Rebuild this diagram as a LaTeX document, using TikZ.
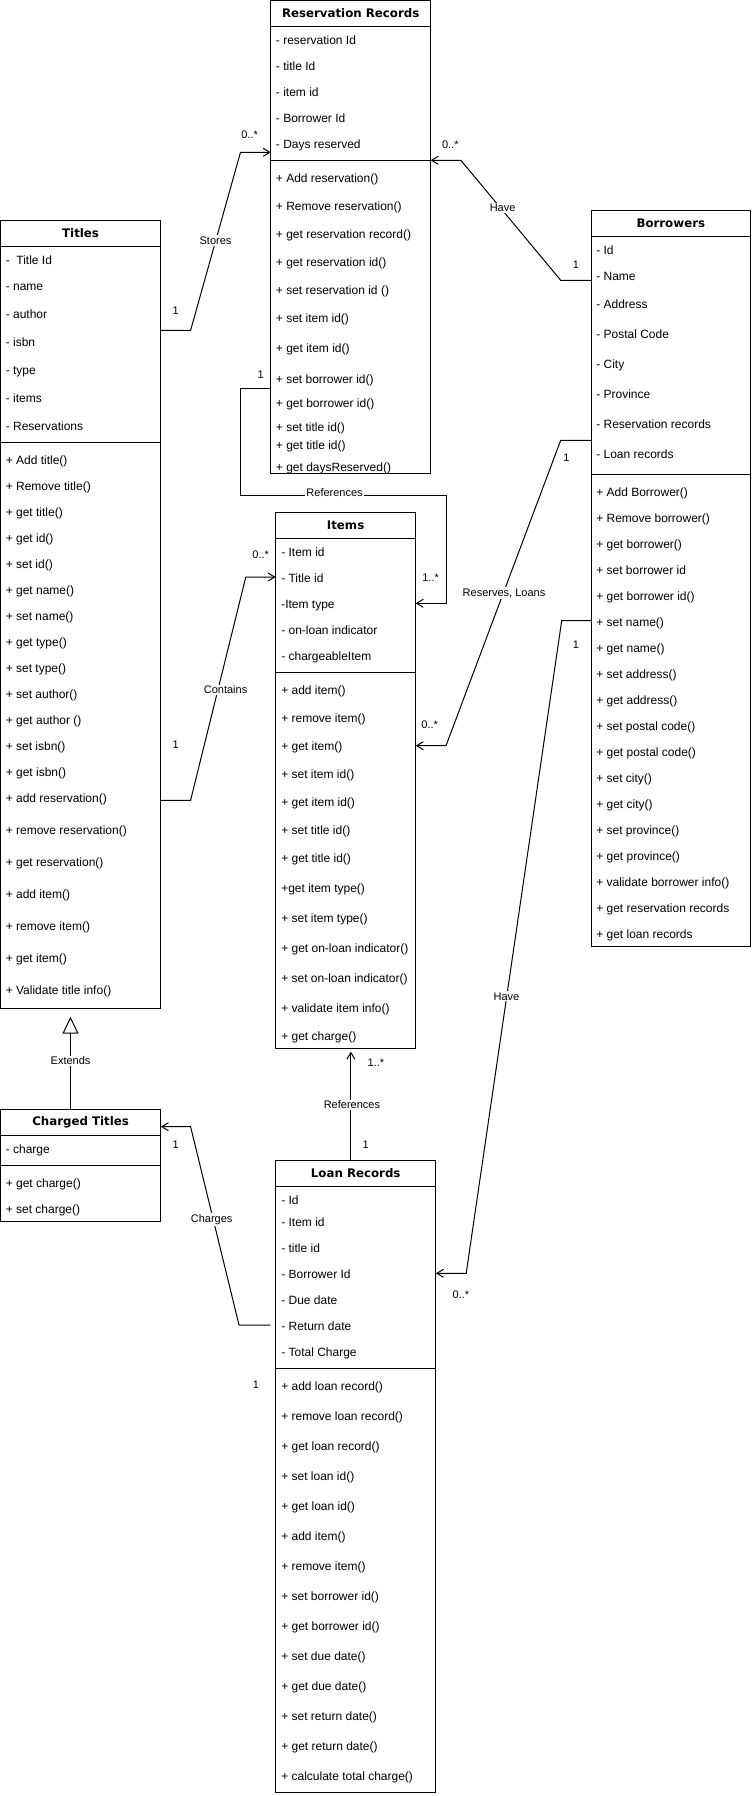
\documentclass[tikz,border=0pt]{standalone}
\usepackage{fontspec}
\setmainfont{Liberation Sans}
\newfontfamily\headfont{DejaVu Sans}
\usetikzlibrary{arrows.meta}
\usetikzlibrary{fit}
\tikzset{
  classbox/.style={draw, line width=0.75pt, inner sep=0pt, outer sep=0pt},
  classname/.style={font=\headfont\bfseries\fontsize{8.85}{10}\selectfont, inner sep=0pt},
  member/.style={font=\fontsize{9}{10.8}\selectfont, anchor=base west, yshift=-3.3pt, inner sep=0pt},
  mult/.style={font=\fontsize{8.25}{10}\selectfont, inner sep=0pt},
  elabel/.style={font=\fontsize{8.25}{10}\selectfont, fill=white, inner sep=1pt},
  sepline/.style={line width=0.75pt},
  assoc/.style={line width=0.75pt, -{Straight Barb[length=5pt,width=6pt]}},
  extends/.style={line width=0.75pt, -{Triangle[open, length=12.75pt, width=12pt]}},
}

\begin{document}
\begin{tikzpicture}[x=0.75pt, y=-0.75pt]
  \useasboundingbox (0,0) rectangle (752,1796);

  % Reservation Records
  \node[classbox, fit={(270.8,0.7) (430.6,473.3)}] (res) {};
  \node[classname] (resname) at (350.7,13.5) {Reservation Records};
  \draw[sepline] (res.west |- 0,26.3) -- (res.east |- 0,26.3);
  \draw[sepline] (res.west |- 0,160.3) -- (res.east |- 0,160.3);
  \foreach \t [count=\i from 0] in {- reservation Id, - title Id, - item id, - Borrower Id, - Days reserved}
    \node[member] (resa\i) at (275.7,{39.7+26*\i}) {\t};
  \foreach \y/\t [count=\i] in {177.7/+ Add reservation(), 205.7/+ Remove reservation(),
      233.7/+ get reservation record(), 261.7/+ get reservation id(), 289.7/+ set reservation id (),
      317.7/+ set item id(), 347.7/+ get item id(), 378.7/+ set borrower id(), 402.7/+ get borrower id(),
      426.7/+ set title id(), 445.3/+ get title id(), 466.7/+ get daysReserved()}
    \node[member] (resm\i) at (275.7,\y) {\t};

  % Titles
  \node[classbox, fit={(0.5,220.3) (160.8,1008.3)}] (titles) {};
  \node[classname] (titlesname) at (80.6,233.3) {Titles};
  \draw[sepline] (titles.west |- 0,246.3) -- (titles.east |- 0,246.3);
  \draw[sepline] (titles.west |- 0,442.7) -- (titles.east |- 0,442.7);
  \foreach \y/\t [count=\i] in {259.7/-\ \ Title Id, 285.7/- name, 313.7/- author, 341.7/- isbn,
      369.7/- type, 397.7/- items, 425.7/- Reservations}
    \node[member] (tita\i) at (5.5,\y) {\t};
  \foreach \t [count=\i from 0] in {+ Add title(), + Remove title(), + get title(), + get id(), + set id(),
      + get name(), + set name(), + get type(), + set type(), + set author(), + get author (),
      + set isbn(), + get isbn(), + add reservation()}
    \node[member] (titm\i) at (5.5,{459.7+26*\i}) {\t};
  \foreach \t [count=\i from 0] in {+ remove reservation(), + get reservation(), + add item(),
      + remove item(), + get item(), + Validate title info()}
    \node[member] (titn\i) at (5.5,{829.7+32*\i}) {\t};

  % Borrowers
  \node[classbox, fit={(591,210.3) (750.5,946)}] (borrowers) {};
  \node[classname] (borrowersname) at (670.8,223.3) {Borrowers};
  \draw[sepline] (borrowers.west |- 0,236.3) -- (borrowers.east |- 0,236.3);
  \draw[sepline] (borrowers.west |- 0,474.3) -- (borrowers.east |- 0,474.3);
  \foreach \y/\t [count=\i] in {249.7/- Id, 275.7/- Name, 303.7/- Address, 333.7/- Postal Code,
      363.7/- City, 393.7/- Province, 423.7/- Reservation records, 454/- Loan records}
    \node[member] (bora\i) at (596,\y) {\t};
  \foreach \t [count=\i from 0] in {+ Add Borrower(), + Remove borrower(), + get borrower(),
      + set borrower id, + get borrower id(), + set name(), + get name(), + set address(),
      + get address(), + set postal code(), + get postal code(), + set city(), + get city(),
      + set province(), + get province(), + validate borrower info(), + get reservation records,
      + get loan records}
    \node[member] (borm\i) at (596,{491.7+26*\i}) {\t};

  % Items
  \node[classbox, fit={(275.6,512.3) (415.7,1048.3)}] (items) {};
  \node[classname] (itemsname) at (345.6,525.3) {Items};
  \draw[sepline] (items.west |- 0,538.3) -- (items.east |- 0,538.3);
  \draw[sepline] (items.west |- 0,672.3) -- (items.east |- 0,672.3);
  \foreach \t [count=\i from 0] in {- Item id, - Title id, -Item type, - on-loan indicator, - chargeableItem}
    \node[member] (itea\i) at (281,{551.7+26*\i}) {\t};
  \foreach \y/\t [count=\i] in {689.7/+ add item(), 717.7/+ remove item(), 745.7/+ get item(),
      773.7/+ set item id(), 801.7/+ get item id(), 829.7/+ set title id(), 857.7/+ get title id(),
      887.7/+get item type(), 917.7/+ set item type(), 947.7/+ get on-loan indicator(),
      977.7/+ set on-loan indicator(), 1007.7/+ validate item info(), 1035.7/+ get charge()}
    \node[member] (itemm\i) at (281,\y) {\t};

  % Charged Titles
  \node[classbox, fit={(0.5,1109.3) (160.8,1221.3)}] (charged) {};
  \node[classname] (chargedname) at (80.6,1122.3) {Charged Titles};
  \draw[sepline] (charged.west |- 0,1135.3) -- (charged.east |- 0,1135.3);
  \draw[sepline] (charged.west |- 0,1165.3) -- (charged.east |- 0,1165.3);
  \node[member] (chaa1) at (5.5,1148.7) {- charge};
  \node[member] (cham1) at (5.5,1182.7) {+ get charge()};
  \node[member] (cham2) at (5.5,1208.7) {+ set charge()};

  % Loan Records
  \node[classbox, fit={(275.6,1160.3) (435.9,1792.3)}] (loan) {};
  \node[classname] (loanname) at (355.7,1173.3) {Loan Records};
  \draw[sepline] (loan.west |- 0,1186.3) -- (loan.east |- 0,1186.3);
  \draw[sepline] (loan.west |- 0,1368.3) -- (loan.east |- 0,1368.3);
  \foreach \y/\t [count=\i] in {1199.7/- Id, 1221.7/- Item id, 1247.7/- title id, 1273.7/- Borrower Id,
      1299.7/- Due date, 1325.7/- Return date, 1351.7/- Total Charge}
    \node[member] (loaa\i) at (281,\y) {\t};
  \foreach \t [count=\i from 0] in {+ add loan record(), + remove loan record(), + get loan record(),
      + set loan id(), + get loan id(), + add item(), + remove item(), + set borrower id(),
      + get borrower id(), + set due date(), + get due date(), + set return date(),
      + get return date(), + calculate total charge()}
    \node[member] (loam\i) at (281,{1385.7+30*\i}) {\t};

  % Stores
  \draw[assoc] (titles.east |- 0,330.3) -- (190.6,330.3) -- (240.5,152.3) -- (res.west |- 0,152.3);
  \node[elabel] (stores) at (215.5,240.3) {Stores};
  \node[mult] (storesA) at (175.7,310.7) {1};
  \node[mult] (storesB) at (249.6,135) {0..*};

  % Have (reservations)
  \draw[assoc] (borrowers.west |- 0,280.3) -- (560.7,280.3) -- (460.9,160.3) -- (res.east |- 0,160.3);
  \node[elabel] (haveres) at (502.6,208) {Have};
  \node[mult] (haveresA) at (576,265) {1};
  \node[mult] (haveresB) at (450.3,144.3) {0..*};

  % References (reservation -> item)
  \draw[assoc] (res.west |- 0,388.3) -- (240.5,388.3) -- (240.5,495.7) -- (446,495.7)
    -- (446,603.3) -- (items.east |- 0,603.3);
  \node[elabel] (refres) at (334.6,492.3) {References};
  \node[mult] (refresA) at (260.7,375) {1};
  \node[mult] (refresB) at (430.6,577.3) {1..*};

  % Contains
  \draw[assoc] (titles.east |- 0,800.3) -- (190.6,800.3) -- (245.8,577) -- (items.west |- 0,577);
  \node[elabel] (contains) at (225.6,690) {Contains};
  \node[mult] (containsA) at (175.7,744.7) {1};
  \node[mult] (containsB) at (260.7,554.7) {0..*};

  % Reserves, Loans
  \draw[assoc] (borrowers.west |- 0,440.3) -- (560.7,440.3) -- (446,745.7) -- (items.east |- 0,745.7);
  \node[elabel] (resloan) at (504,593.3) {Reserves, Loans};
  \node[mult] (resloanA) at (566.5,457.3) {1};
  \node[mult] (resloanB) at (429.7,724.7) {0..*};

  % Have (loans)
  \draw[assoc] (borrowers.west |- 0,620.7) -- (561.7,620.7) -- (466.2,1273.3) -- (loan.east |- 0,1273.3);
  \node[elabel] (haveloan) at (506.5,996.3) {Have};
  \node[mult] (haveloanA) at (576,644.7) {1};
  \node[mult] (haveloanB) at (460.9,1294.7) {0..*};

  % Extends
  \draw[extends, shorten >=6.3pt] (charged.north -| 70.5,0) -- (titles.south -| 70.5,0);
  \node[elabel] (extends) at (70.6,1061) {Extends};

  % References (loan -> item)
  \draw[assoc, shorten >=2.5pt] (loan.north -| 350.9,0) -- (items.south -| 350.9,0);
  \node[elabel] (refloan) at (351.9,1105) {References};
  \node[mult] (refloanA) at (375.9,1062.7) {1..*};
  \node[mult] (refloanB) at (365.8,1144.3) {1};

  % Charges
  \draw[assoc, shorten <=4pt] (loan.west |- 0,1325) -- (239,1325) -- (190.6,1126.7) -- (charged.east |- 0,1126.7);
  \node[elabel] (charges) at (211.7,1219.3) {Charges};
  \node[mult] (chargesA) at (175.7,1144.7) {1};
  \node[mult] (chargesB) at (255.9,1384.7) {1};
\end{tikzpicture}
\end{document}
